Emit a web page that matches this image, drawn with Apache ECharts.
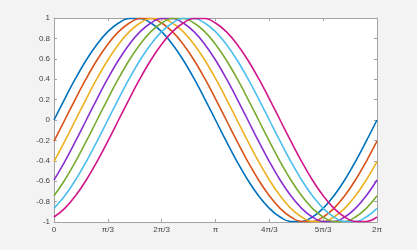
<!DOCTYPE html>
<html>
<head>
<meta charset="utf-8">
<script src="https://cdn.jsdelivr.net/npm/echarts@6/dist/echarts.min.js"></script>
<style>
  html, body { margin: 0; padding: 0; background: #f3f3f3; }
  #chart { width: 417px; height: 250px; }
</style>
</head>
<body>
<div id="chart"></div>
<script>
// x positions, in units of pi/3
var xs = [0, 0.2, 0.4, 0.6, 0.8, 1, 1.2, 1.4, 1.6, 1.8, 2, 2.2, 2.4, 2.6, 2.8, 3,
  3.2, 3.4, 3.6, 3.8, 4, 4.2, 4.4, 4.6, 4.8, 5, 5.2, 5.4, 5.6, 5.8, 6];
var xTickLabels = ['0', 'π/3', '2π/3', 'π', '4π/3', '5π/3', '2π'];

var blue = [0, 0.208, 0.407, 0.588, 0.743, 0.866, 0.951, 0.995, 0.995, 0.951, 0.866, 0.743, 0.588, 0.407, 0.208, 0,
  -0.208, -0.407, -0.588, -0.743, -0.866, -0.951, -0.995, -0.995, -0.951, -0.866, -0.743, -0.588, -0.407, -0.208, 0];
var orange = [-0.208, 0, 0.208, 0.407, 0.588, 0.743, 0.866, 0.951, 0.995, 0.995, 0.951, 0.866, 0.743, 0.588, 0.407, 0.208,
  0, -0.208, -0.407, -0.588, -0.743, -0.866, -0.951, -0.995, -0.995, -0.951, -0.866, -0.743, -0.588, -0.407, -0.208];
var yellow = [-0.407, -0.208, 0, 0.208, 0.407, 0.588, 0.743, 0.866, 0.951, 0.995, 0.995, 0.951, 0.866, 0.743, 0.588, 0.407,
  0.208, 0, -0.208, -0.407, -0.588, -0.743, -0.866, -0.951, -0.995, -0.995, -0.951, -0.866, -0.743, -0.588, -0.407];
var purple = [-0.588, -0.407, -0.208, 0, 0.208, 0.407, 0.588, 0.743, 0.866, 0.951, 0.995, 0.995, 0.951, 0.866, 0.743, 0.588,
  0.407, 0.208, 0, -0.208, -0.407, -0.588, -0.743, -0.866, -0.951, -0.995, -0.995, -0.951, -0.866, -0.743, -0.588];
var green = [-0.743, -0.588, -0.407, -0.208, 0, 0.208, 0.407, 0.588, 0.743, 0.866, 0.951, 0.995, 0.995, 0.951, 0.866, 0.743,
  0.588, 0.407, 0.208, 0, -0.208, -0.407, -0.588, -0.743, -0.866, -0.951, -0.995, -0.995, -0.951, -0.866, -0.743];
var cyan = [-0.866, -0.743, -0.588, -0.407, -0.208, 0, 0.208, 0.407, 0.588, 0.743, 0.866, 0.951, 0.995, 0.995, 0.951, 0.866,
  0.743, 0.588, 0.407, 0.208, 0, -0.208, -0.407, -0.588, -0.743, -0.866, -0.951, -0.995, -0.995, -0.951, -0.866];
var magenta = [-0.951, -0.866, -0.743, -0.588, -0.407, -0.208, 0, 0.208, 0.407, 0.588, 0.743, 0.866, 0.951, 0.995, 0.995, 0.951,
  0.866, 0.743, 0.588, 0.407, 0.208, 0, -0.208, -0.407, -0.588, -0.743, -0.866, -0.951, -0.995, -0.995, -0.951];

var curves = [blue, orange, yellow, purple, green, cyan, magenta];
var colors = ['#0072BD', '#D95319', '#EDB120', '#8a2fcf', '#77AC30', '#4DBEEE', '#d0168a'];

var myChart = echarts.init(document.getElementById('chart'), null, { renderer: 'canvas' });

var axisColor = '#a3a3a3';
var labelStyle = { color: '#444', fontSize: 8, fontFamily: 'Liberation Sans, Arial, sans-serif' };

var series = curves.map(function (ys, i) {
  return {
    type: 'line',
    xAxisIndex: 0,
    yAxisIndex: 0,
    data: xs.map(function (x, j) { return [x, ys[j]]; }),
    smooth: 0.4,
    symbol: 'none',
    lineStyle: { color: colors[i], width: 1.6 },
    z: 2 + i
  };
});

var option = {
  backgroundColor: '#f3f3f3',
  animation: false,
  grid: {
    left: 54, right: 40, top: 18, bottom: 28,
    show: true, backgroundColor: '#fff', borderWidth: 0
  },
  xAxis: [
    {
      type: 'value', min: 0, max: 6, interval: 1, position: 'bottom',
      axisLine: { onZero: false, lineStyle: { color: axisColor, width: 1 } },
      axisTick: { inside: true, length: 3, lineStyle: { color: axisColor } },
      axisLabel: Object.assign({ margin: 4, formatter: function (v) { return xTickLabels[Math.round(v)]; } }, labelStyle),
      splitLine: { show: false }
    },
    {
      type: 'value', min: 0, max: 6, interval: 1, position: 'top',
      axisLine: { onZero: false, lineStyle: { color: axisColor, width: 1 } },
      axisTick: { inside: true, length: 3, lineStyle: { color: axisColor } },
      axisLabel: { show: false },
      splitLine: { show: false }
    }
  ],
  yAxis: [
    {
      type: 'value', min: -1, max: 1, interval: 0.2, position: 'left',
      axisLine: { show: true, onZero: false, lineStyle: { color: axisColor, width: 1 } },
      axisTick: { show: true, inside: true, length: 3, lineStyle: { color: axisColor } },
      axisLabel: Object.assign({ margin: 4, formatter: function (v) { return String(Math.round(v * 10) / 10); } }, labelStyle),
      splitLine: { show: false }
    },
    {
      type: 'value', min: -1, max: 1, interval: 0.2, position: 'right',
      axisLine: { show: true, onZero: false, lineStyle: { color: axisColor, width: 1 } },
      axisTick: { show: true, inside: true, length: 3, lineStyle: { color: axisColor } },
      axisLabel: { show: false },
      splitLine: { show: false }
    }
  ],
  series: series
};

myChart.setOption(option);
</script>
</body>
</html>
